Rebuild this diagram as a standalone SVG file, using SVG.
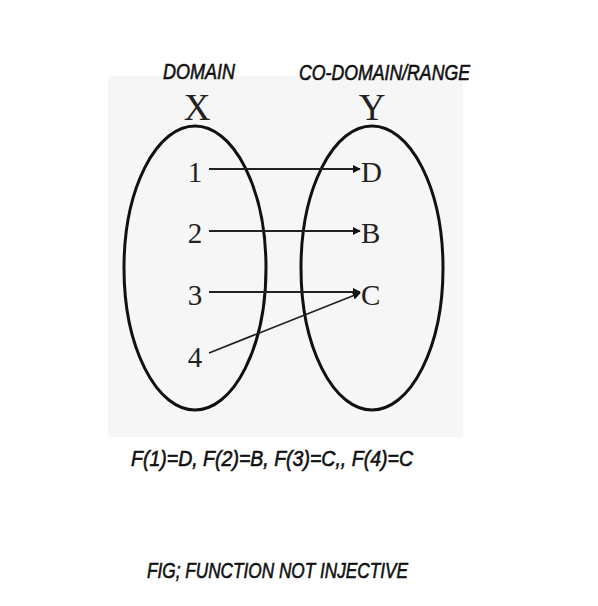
<svg xmlns="http://www.w3.org/2000/svg" width="598" height="606" viewBox="0 0 598 606">
<defs>
<style>
.hand{font-family:"Liberation Sans Narrow","Liberation Sans",sans-serif;font-style:italic;font-size:22px;fill:#111;stroke:#111;stroke-width:0.6;}
.serif{font-family:"Liberation Serif","DejaVu Serif",serif;fill:#222;}
.el{fill:none;stroke:#111;stroke-width:3;}
.arr{stroke:#222;stroke-width:1.8;fill:none;marker-end:url(#ah);}
</style>
<marker id="ah" viewBox="0 0 10 10" refX="9" refY="5" markerWidth="4.5" markerHeight="4.5" orient="auto" markerUnits="strokeWidth">
<path d="M0,0 L10,5 L0,10 z" fill="#111"/>
</marker>
</defs>
<rect x="0" y="0" width="598" height="606" fill="#ffffff"/>
<rect x="108" y="76" width="355" height="361" fill="#f6f6f6"/>
<text class="hand" x="163" y="79" textLength="72" lengthAdjust="spacingAndGlyphs">DOMAIN</text>
<text class="hand" x="299" y="80" textLength="171" lengthAdjust="spacingAndGlyphs">CO-DOMAIN/RANGE</text>
<g id="setX">
<ellipse class="el" cx="195" cy="268" rx="71" ry="142"/>
<text class="serif" x="197" y="120" font-size="37" text-anchor="middle">X</text>
</g>
<g id="setY">
<ellipse class="el" cx="372" cy="268" rx="71" ry="142"/>
<text class="serif" x="372" y="120" font-size="37" text-anchor="middle">Y</text>
</g>
<g id="n1"><text class="serif" x="195" y="182" font-size="29" text-anchor="middle">1</text></g>
<g id="n2"><text class="serif" x="195" y="243" font-size="29" text-anchor="middle">2</text></g>
<g id="n3"><text class="serif" x="195" y="305" font-size="29" text-anchor="middle">3</text></g>
<g id="n4"><text class="serif" x="195" y="367" font-size="29" text-anchor="middle">4</text></g>
<g id="nD"><text class="serif" x="361" y="182" font-size="29">D</text></g>
<g id="nB"><text class="serif" x="361" y="243" font-size="29">B</text></g>
<g id="nC"><text class="serif" x="361" y="305" font-size="29">C</text></g>
<g id="connectors">
<line class="arr" x1="209" y1="169" x2="360" y2="169"/>
<line class="arr" x1="209" y1="231" x2="360" y2="231"/>
<line class="arr" x1="209" y1="292" x2="360" y2="292"/>
<line class="arr" x1="209" y1="353" x2="360" y2="293"/>
</g>
<text class="hand" x="131" y="466" textLength="282" lengthAdjust="spacingAndGlyphs">F(1)=D, F(2)=B, F(3)=C,, F(4)=C</text>
<text class="hand" x="147" y="578" textLength="261" lengthAdjust="spacingAndGlyphs">FIG; FUNCTION NOT INJECTIVE</text>
</svg>
